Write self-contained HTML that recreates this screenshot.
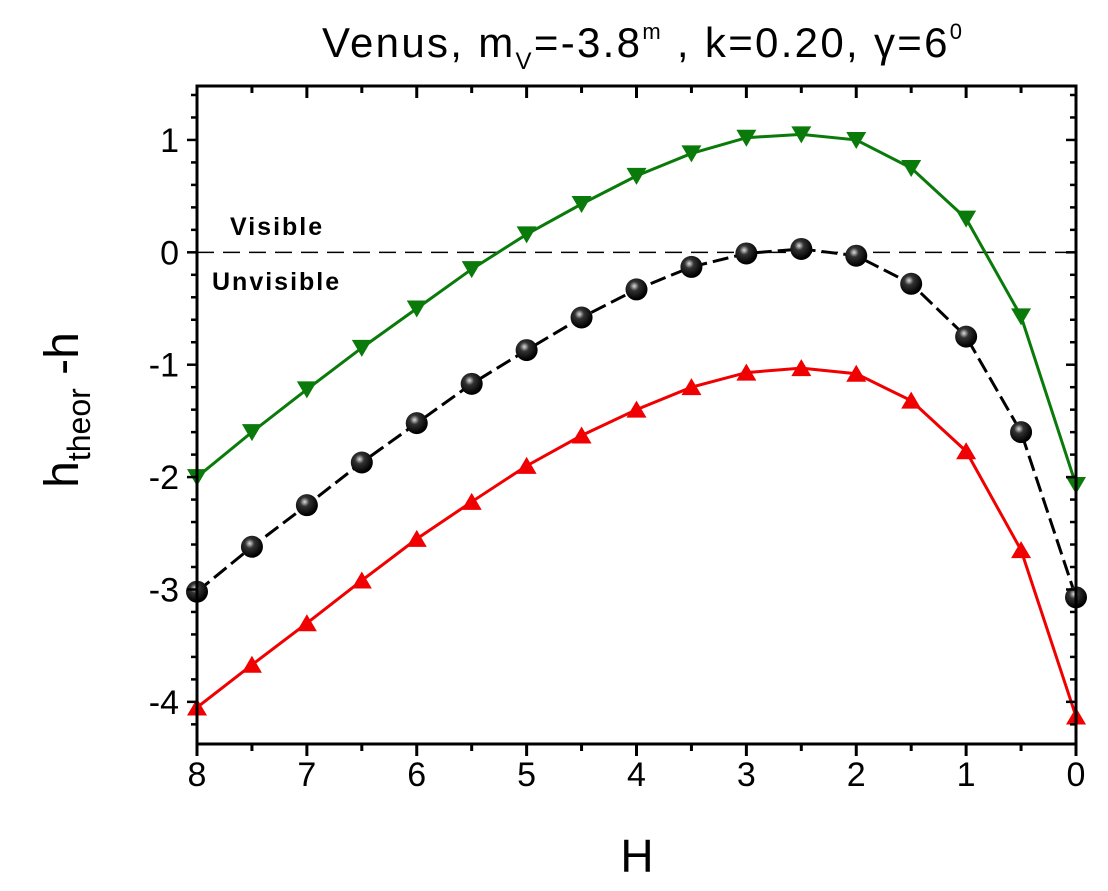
<!DOCTYPE html>
<html><head><meta charset="utf-8"><style>
body{margin:0;background:#fff;}
svg text{font-family:"Liberation Sans",sans-serif;}
</style></head><body>
<svg id="chart" width="1108" height="886" xmlns="http://www.w3.org/2000/svg">
<text x="322" y="57" font-size="42" textLength="640" lengthAdjust="spacing">Venus, m<tspan font-size="24" dy="12">V</tspan><tspan dy="-12">=-3.8</tspan><tspan font-size="22" dy="-18">m</tspan><tspan dy="18"> , k=0.20, γ=6</tspan><tspan font-size="22" dy="-18">0</tspan></text>
<text transform="translate(78,410) rotate(-90)" text-anchor="middle" font-size="48">h<tspan font-size="32" dy="12">theor</tspan><tspan dy="-12"> -h</tspan></text>
<text x="637" y="872" text-anchor="middle" font-size="46">H</text>
<g id="plot"></g>
</svg>
<script>
const hValues=[8,7.5,7,6.5,6,5.5,5,4.5,4,3.5,3,2.5,2,1.5,1,0.5,0];
const greenSeries=[-2.0,-1.6,-1.22,-0.85,-0.5,-0.15,0.16,0.43,0.68,0.88,1.02,1.05,1.0,0.75,0.3,-0.57,-2.07];
const blackSeries=[-3.02,-2.62,-2.25,-1.87,-1.52,-1.17,-0.87,-0.58,-0.33,-0.13,-0.01,0.03,-0.03,-0.28,-0.75,-1.6,-3.07];
const redSeries=[-4.05,-3.67,-3.3,-2.92,-2.55,-2.22,-1.9,-1.63,-1.4,-1.2,-1.07,-1.03,-1.08,-1.32,-1.77,-2.65,-4.13];
const xTicks=[8,7,6,5,4,3,2,1,0];
const yTicks=[1,0,-1,-2,-3,-4];
const L=197,R=1076,T=86,B=744;
const xMin=8,xMax=0,yMin=-4.375,yMax=1.48;
const X=v=>L+(v-xMin)/(xMax-xMin)*(R-L);
const Y=v=>B-(v-yMin)/(yMax-yMin)*(B-T);
const NS="http://www.w3.org/2000/svg";
const g=document.getElementById('plot');
function mk(tag,attrs,parent){const e=document.createElementNS(NS,tag);for(const k in attrs)e.setAttribute(k,attrs[k]);(parent||g).appendChild(e);return e;}
const defs=mk('defs',{});
const rg=mk('radialGradient',{id:'ball',cx:'0.4',cy:'0.35',r:'0.6'},defs);
mk('stop',{offset:'0','stop-color':'#ddd'},rg);mk('stop',{offset:'0.35','stop-color':'#333'},rg);mk('stop',{offset:'1','stop-color':'#000'},rg);
let zl=mk('line',{x1:L,x2:R,y1:Y(0),y2:Y(0),stroke:'#000','stroke-width':1.5,'stroke-dasharray':'17,9'});


let t1=mk('text',{x:230,y:235,'font-size':25,'font-weight':'bold','letter-spacing':2});t1.textContent='Visible';


let t2=mk('text',{x:212,y:290,'font-size':25,'font-weight':'bold','letter-spacing':2});t2.textContent='Unvisible';


function series(vals,color,dash,marker,name){
  let d=vals.map((v,i)=>(i?'L':'M')+X(hValues[i])+','+Y(v)).join('');
  let p=mk('path',{d:d,fill:'none',stroke:color,'stroke-width':3,'stroke-dasharray':dash});
  
  
  vals.forEach((v,i)=>{const x=X(hValues[i]),y=Y(v);let m;
    if(marker==='down')m=mk('polygon',{points:`${x-10},${y-8} ${x+10},${y-8} ${x},${y+9}`,fill:color});
    else if(marker==='up')m=mk('polygon',{points:`${x-10},${y+8} ${x+10},${y+8} ${x},${y-9}`,fill:color});
    else m=mk('circle',{cx:x,cy:y,r:11,fill:'url(#ball)'});
    
    });
}
series(greenSeries,'#0a7a0a','none','down','green-series');
series(blackSeries,'#000','16,6','ball','black-series');
series(redSeries,'#f00000','none','up','red-series');
let fr=mk('rect',{x:L,y:T,width:R-L,height:B-T,fill:'none',stroke:'#000','stroke-width':3});


for(let v=8;v>=0;v-=0.5){const x=X(v),maj=v%1===0,len=maj?12:7;
  mk('line',{x1:x,x2:x,y1:B,y2:B+len,stroke:'#000','stroke-width':3});
  mk('line',{x1:x,x2:x,y1:T,y2:T+len,stroke:'#000','stroke-width':3});}
xTicks.forEach(v=>{let t=mk('text',{x:X(v),y:B+42,'font-size':34,'text-anchor':'middle'});t.textContent=v;
  
  });
for(let k=-21;k<=7;k++){const v=k*0.2;if(v<yMin||v>yMax)continue;const y=Y(v),maj=k%5===0,len=maj?10:6;
  mk('line',{x1:L-len,x2:L,y1:y,y2:y,stroke:'#000','stroke-width':2.5});
  mk('line',{x1:R-len,x2:R,y1:y,y2:y,stroke:'#000','stroke-width':2.5});}
yTicks.forEach(v=>{let t=mk('text',{x:L-18,y:Y(v)+12,'font-size':34,'text-anchor':'end'});t.textContent=v;
  
  });
</script>
</body></html>
